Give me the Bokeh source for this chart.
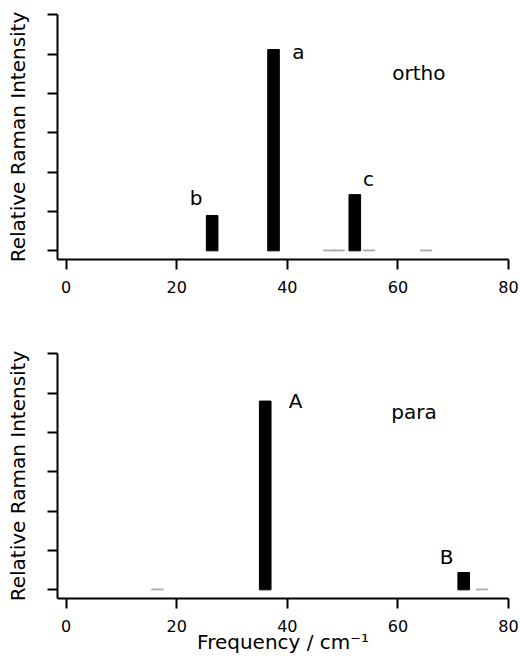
from bokeh.plotting import figure
from bokeh.models import FixedTicker, Range1d, ColumnDataSource
from bokeh.layouts import column
from bokeh.core.properties import value
from bokeh.embed import file_html
from bokeh.resources import INLINE

FONT = "DejaVu Sans"

# ortho: computed Raman bands (frequency in cm-1, relative intensity)
ortho_freq = [26.4, 37.5, 52.2, 47.6, 49.3, 54.8, 65.1]
ortho_int = [0.90, 5.12, 1.43, 0.02, 0.02, 0.02, 0.02]
ortho_tags = ["b", "a", "c"]
ortho_tag_x = [23.5, 42.0, 54.7]
ortho_tag_y = [1.34, 5.05, 1.82]

# para
para_freq = [36.0, 71.9, 16.5, 75.2]
para_int = [4.80, 0.44, 0.02, 0.02]
para_tags = ["A", "B"]
para_tag_x = [41.5, 68.8]
para_tag_y = [4.81, 0.84]

x_ticks = [0, 20, 40, 60, 80]
y_ticks = [0, 1, 2, 3, 4, 5, 6]


def make_panel(freq, inten, tags, tag_x, tag_y, name, name_x, name_y,
               height, border_top, border_bottom, xlabel=None):
    p = figure(width=520, height=height,
               x_range=Range1d(-1.57, 80), y_range=Range1d(-0.22, 6.01),
               output_backend="svg", toolbar_location=None,
               min_border_left=57, min_border_right=12,
               min_border_top=border_top, min_border_bottom=border_bottom)
    p.outline_line_color = None
    p.grid.visible = False

    colors = ["black" if v > 0.1 else "#a8a8a8" for v in inten]
    src = ColumnDataSource(data=dict(x=freq, top=inten, color=colors))
    p.vbar(x="x", top="top", bottom=0, width=2.1, source=src,
           fill_color="color", line_color="color", line_width=1)

    p.text(x=tag_x, y=tag_y, text=tags, text_font=value(FONT),
           text_font_size="20px", text_align="center",
           text_baseline="middle", text_color="black")
    p.text(x=[name_x], y=[name_y], text=[name], text_font=value(FONT),
           text_font_size="20px", text_align="center",
           text_baseline="middle", text_color="black")

    for ax in (p.xaxis, p.yaxis):
        ax.axis_line_width = 2
        ax.major_tick_line_width = 2
        ax.major_tick_in = 0
        ax.major_tick_out = 10
        ax.minor_tick_line_color = None
        ax.major_label_text_font = FONT
        ax.major_label_text_font_size = "16px"
        ax.major_label_text_color = "black"
        ax.axis_label_text_font = FONT
        ax.axis_label_text_font_size = "20px"
        ax.axis_label_text_font_style = "normal"
        ax.axis_label_text_color = "black"

    p.xaxis.ticker = FixedTicker(ticks=x_ticks)
    p.xaxis.major_label_standoff = 11
    p.yaxis.ticker = FixedTicker(ticks=y_ticks)
    p.yaxis.major_label_overrides = {t: "" for t in y_ticks}
    p.yaxis.major_label_standoff = 0
    p.yaxis.axis_label = "Relative Raman Intensity"
    p.yaxis.axis_label_standoff = 18
    if xlabel:
        p.xaxis.axis_label = xlabel
        p.xaxis.axis_label_standoff = -5
    return p


top = make_panel(ortho_freq, ortho_int, ortho_tags, ortho_tag_x, ortho_tag_y,
                 "ortho", 63.8, 4.51, height=299, border_top=14,
                 border_bottom=40)
bottom = make_panel(para_freq, para_int, para_tags, para_tag_x, para_tag_y,
                    "para", 62.9, 4.52, height=360, border_top=54,
                    border_bottom=61, xlabel="Frequency / cm\u207b\u00b9")

layout = column(top, bottom, spacing=0)
open("out.html", "w").write(file_html(layout, INLINE))
